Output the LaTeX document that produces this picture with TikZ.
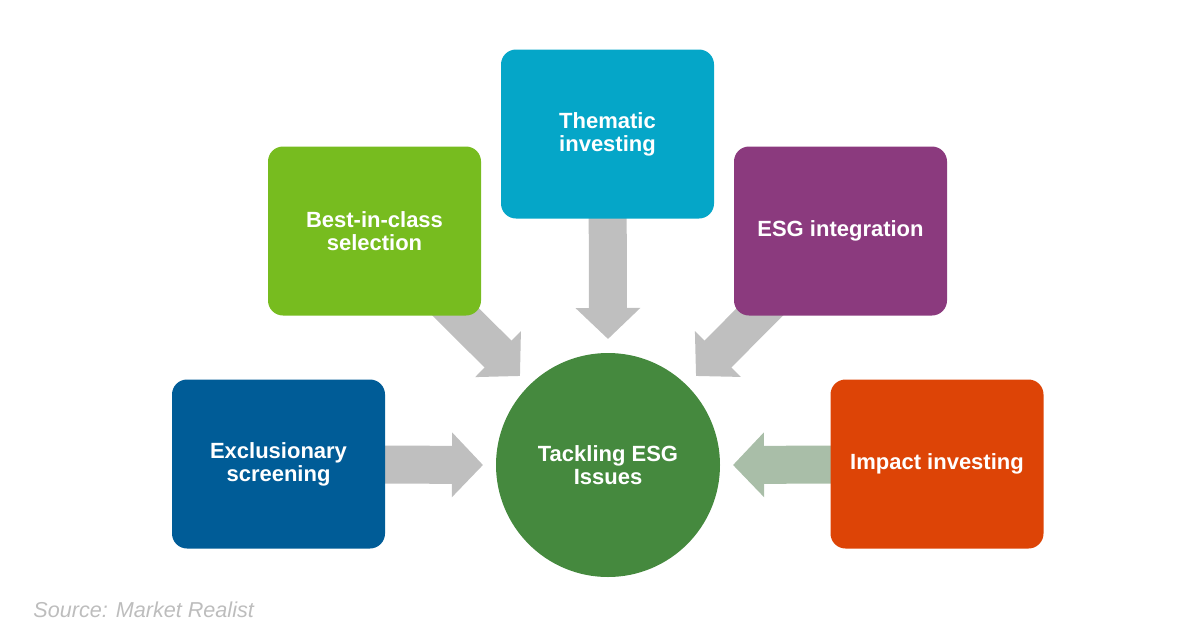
\documentclass[tikz,border=0pt]{standalone}
\usepackage{fontspec}
\setmainfont{Liberation Sans}
\usetikzlibrary{arrows.meta, backgrounds}
\definecolor{esgblue}{HTML}{005C97}
\definecolor{esglime}{HTML}{77BC1F}
\definecolor{esgcyan}{HTML}{05A6C8}
\definecolor{esgpurple}{HTML}{8B3A7E}
\definecolor{esgorange}{HTML}{DD4406}
\definecolor{esggreen}{HTML}{45893E}
\definecolor{esggray}{HTML}{BFBFBF}
\definecolor{esgsage}{HTML}{A9BEA8}
\definecolor{esgsource}{HTML}{BDBDBD}

\begin{document}
\begin{tikzpicture}[
  x=0.5pt, y=-0.5pt,
  every node/.style={font=\fontsize{11}{11.5}\selectfont\bfseries, text=white, align=center},
  approach/.style={rectangle, rounded corners=7.5pt, minimum width=106.5pt, minimum height=84.5pt, inner sep=0pt},
  issue/.style={circle, fill=esggreen, minimum size=112pt, inner sep=0pt},
  fatarrow/.style={draw=esggray, line width=19pt, -{Triangle[length=15.5pt, width=31.5pt]}},
]
\useasboundingbox (0,0) rectangle (1200,628);

% outer approaches
\node[approach, fill=esgblue] (excl) at (278.5,464) {Exclusionary\\screening};
\node[approach, fill=esglime] (best) at (374.5,231) {Best-in-class\\selection};
\node[approach, fill=esgcyan] (them) at (607.5,134) {Thematic\\investing};
\node[approach, fill=esgpurple] (integ) at (840.5,231) {ESG integration};
\node[approach, fill=esgorange] (impact) at (937,464) {Impact investing};

% centre
\node[issue] (core) at (608,465) {Tackling ESG\\Issues};

% arrow tips
\coordinate (tipexcl) at (483,465);
\coordinate (tipbest) at (520,376);
\coordinate (tipthem) at (608,339);
\coordinate (tipinteg) at (696,376);
\coordinate (tipimpact) at (733,465);

\begin{scope}[on background layer]
\draw[fatarrow] (excl.center) -- (tipexcl);
\draw[fatarrow] (best.center) -- (tipbest);
\draw[fatarrow] (them.center) -- (tipthem);
\draw[fatarrow] (integ.center) -- (tipinteg);
\draw[fatarrow, draw=esgsage] (impact.center) -- (tipimpact);
\end{scope}

\node[anchor=base west, inner sep=0pt, font=\fontsize{10.8}{12}\selectfont\itshape, text=esgsource] (src) at (33,617) {Source: Market Realist};
\end{tikzpicture}
\end{document}
